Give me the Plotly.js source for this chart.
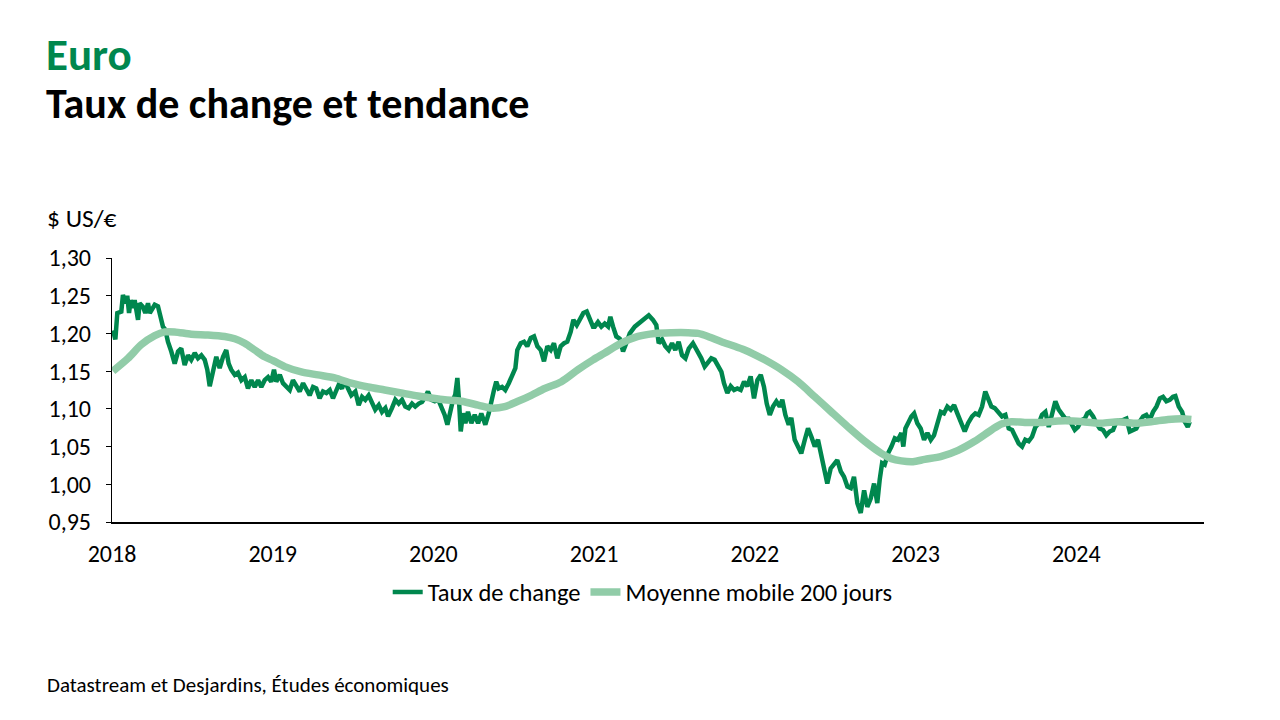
<!DOCTYPE html>
<html>
<head>
<meta charset="utf-8">
<script src="https://cdn.plot.ly/plotly-3.0.1.min.js"></script>
<style>
html,body{margin:0;padding:0;background:#fff;}
#chart{width:1280px;height:720px;}
</style>
</head>
<body>
<div id="chart"></div>
<script>
// Exchange rate (USD per EUR), x in decimal years
const rateX = [
2018.006,2018.021,2018.033,2018.058,2018.068,2018.083,2018.095,2018.106,2018.116,2018.131,2018.141,2018.162,2018.172,2018.193,2018.207,2018.224,2018.235,2018.266,2018.286,2018.303,2018.317,2018.332,2018.348,2018.369,2018.390,2018.411,2018.431,2018.452,2018.473,2018.493,2018.515,2018.535,2018.556,2018.577,2018.593,2018.608,2018.629,2018.649,2018.670,2018.691,2018.711,2018.726,2018.742,2018.764,2018.784,2018.805,2018.826,2018.846,2018.867,2018.888,2018.909,2018.929,2018.950,2018.971,2018.991,
2019.008,2019.022,2019.044,2019.064,2019.085,2019.106,2019.126,2019.147,2019.168,2019.189,2019.209,2019.230,2019.251,2019.271,2019.292,2019.313,2019.334,2019.355,2019.375,2019.396,2019.411,2019.431,2019.448,2019.469,2019.489,2019.514,2019.535,2019.556,2019.576,2019.597,2019.618,2019.638,2019.660,2019.680,2019.701,2019.718,2019.742,2019.763,2019.784,2019.805,2019.825,2019.846,2019.867,2019.887,2019.909,2019.929,2019.950,2019.966,2019.987,
2020.008,2020.029,2020.049,2020.070,2020.087,2020.101,2020.122,2020.136,2020.149,2020.159,2020.170,2020.184,2020.199,2020.215,2020.236,2020.257,2020.278,2020.298,2020.323,2020.344,2020.360,2020.377,2020.391,2020.406,2020.427,2020.447,2020.469,2020.489,2020.510,2020.522,2020.543,2020.564,2020.584,2020.606,2020.626,2020.647,2020.668,2020.688,2020.709,2020.730,2020.750,2020.771,2020.792,2020.813,2020.833,2020.854,2020.871,2020.892,2020.912,2020.933,2020.954,2020.975,2020.993,
2021.004,2021.024,2021.045,2021.066,2021.087,2021.101,2021.118,2021.138,2021.159,2021.180,2021.200,2021.222,2021.253,2021.284,2021.315,2021.340,2021.366,2021.387,2021.402,2021.423,2021.443,2021.464,2021.485,2021.505,2021.526,2021.547,2021.568,2021.589,2021.615,2021.642,2021.667,2021.688,2021.709,2021.729,2021.750,2021.771,2021.792,2021.808,2021.829,2021.850,2021.871,2021.891,2021.912,2021.933,2021.953,2021.974,2021.995,
2022.016,2022.037,2022.057,2022.074,2022.093,2022.113,2022.134,2022.155,2022.171,2022.190,2022.211,2022.227,2022.248,2022.269,2022.289,2022.311,2022.331,2022.352,2022.373,2022.393,2022.410,2022.431,2022.451,2022.472,2022.493,2022.513,2022.535,2022.555,2022.576,2022.597,2022.617,2022.638,2022.659,2022.680,2022.700,2022.721,2022.742,2022.762,2022.777,2022.792,2022.808,2022.829,2022.850,2022.871,2022.891,2022.912,2022.924,2022.937,2022.958,2022.974,2022.991,
2023.011,2023.032,2023.053,2023.074,2023.095,2023.115,2023.136,2023.157,2023.177,2023.198,2023.219,2023.240,2023.260,2023.285,2023.306,2023.327,2023.352,2023.372,2023.393,2023.414,2023.434,2023.451,2023.472,2023.493,2023.513,2023.538,2023.559,2023.580,2023.601,2023.621,2023.642,2023.663,2023.683,2023.704,2023.725,2023.746,2023.767,2023.787,2023.808,2023.829,2023.850,2023.870,2023.891,2023.912,2023.932,2023.953,2023.974,2023.991,
2024.011,2024.032,2024.053,2024.069,2024.084,2024.105,2024.125,2024.146,2024.167,2024.187,2024.208,2024.229,2024.250,2024.271,2024.291,2024.312,2024.333,2024.354,2024.374,2024.395,2024.416,2024.436,2024.457,2024.478,2024.499,2024.520,2024.540,2024.561,2024.582,2024.602,2024.617,2024.638,2024.659,2024.675,2024.694,2024.706
];
const rateY = [
1.204,1.192,1.227,1.229,1.251,1.240,1.250,1.227,1.244,1.234,1.244,1.218,1.240,1.235,1.227,1.240,1.227,1.238,1.236,1.222,1.209,1.205,1.189,1.176,1.160,1.176,1.180,1.158,1.171,1.165,1.174,1.167,1.171,1.165,1.152,1.130,1.152,1.169,1.154,1.169,1.178,1.160,1.152,1.145,1.148,1.138,1.142,1.127,1.138,1.129,1.138,1.129,1.138,1.142,1.136,
1.152,1.136,1.145,1.134,1.129,1.125,1.138,1.129,1.123,1.134,1.127,1.118,1.129,1.127,1.114,1.123,1.121,1.125,1.114,1.123,1.132,1.127,1.138,1.127,1.118,1.123,1.105,1.116,1.112,1.118,1.107,1.099,1.105,1.096,1.101,1.090,1.101,1.112,1.107,1.112,1.103,1.101,1.107,1.103,1.107,1.109,1.116,1.123,1.112,
1.110,1.113,1.103,1.092,1.079,1.094,1.112,1.119,1.141,1.112,1.070,1.094,1.081,1.096,1.081,1.092,1.081,1.094,1.079,1.094,1.112,1.125,1.136,1.127,1.129,1.125,1.134,1.145,1.154,1.178,1.187,1.189,1.183,1.194,1.196,1.183,1.178,1.163,1.183,1.178,1.187,1.167,1.183,1.187,1.189,1.202,1.218,1.211,1.220,1.227,1.229,1.220,1.209,
1.209,1.215,1.209,1.213,1.209,1.222,1.209,1.196,1.193,1.176,1.187,1.200,1.209,1.215,1.220,1.224,1.218,1.211,1.187,1.192,1.183,1.178,1.187,1.178,1.189,1.171,1.167,1.180,1.187,1.178,1.167,1.156,1.163,1.167,1.165,1.156,1.149,1.134,1.121,1.130,1.125,1.127,1.125,1.136,1.130,1.143,1.114,
1.138,1.145,1.129,1.107,1.092,1.103,1.110,1.103,1.112,1.092,1.079,1.088,1.059,1.050,1.041,1.059,1.074,1.063,1.050,1.059,1.041,1.023,1.001,1.021,1.026,1.032,1.017,1.010,0.997,0.995,1.010,0.975,0.962,0.992,0.970,0.981,1.001,0.975,1.006,1.028,1.026,1.041,1.050,1.061,1.059,1.068,1.050,1.074,1.083,1.090,1.094,
1.081,1.074,1.059,1.068,1.059,1.065,1.081,1.096,1.094,1.103,1.099,1.105,1.094,1.079,1.070,1.081,1.090,1.094,1.092,1.103,1.123,1.114,1.103,1.101,1.096,1.090,1.092,1.074,1.072,1.063,1.054,1.050,1.059,1.057,1.063,1.076,1.081,1.092,1.096,1.076,1.094,1.110,1.099,1.092,1.087,1.087,1.078,1.072,
1.076,1.085,1.087,1.094,1.096,1.090,1.081,1.074,1.072,1.065,1.070,1.072,1.083,1.085,1.085,1.087,1.070,1.072,1.074,1.083,1.090,1.092,1.085,1.096,1.103,1.114,1.116,1.110,1.112,1.116,1.117,1.103,1.096,1.083,1.076,1.083
];
// 200-day moving average
const maX = [
2018.006,2018.100,2018.182,2018.266,2018.328,2018.390,2018.493,2018.597,2018.701,2018.764,2018.826,2018.888,2018.950,
2019.002,2019.075,2019.178,2019.282,2019.386,2019.489,2019.593,2019.697,2019.800,2019.904,2019.998,
2020.070,2020.174,2020.278,2020.360,2020.444,2020.526,2020.609,2020.693,2020.796,2020.900,2020.993,
2021.066,2021.169,2021.273,2021.377,2021.481,2021.584,2021.647,2021.709,2021.792,2021.875,2021.937,2021.989,
2022.062,2022.165,2022.269,2022.373,2022.476,2022.580,2022.684,2022.787,2022.850,2022.912,2022.985,
2023.057,2023.161,2023.265,2023.368,2023.472,2023.534,2023.596,2023.680,2023.783,2023.887,2023.980,
2024.156,2024.260,2024.364,2024.467,2024.571,2024.654,2024.716
];
const maY = [
1.150,1.167,1.185,1.197,1.202,1.202,1.199,1.198,1.196,1.193,1.187,1.178,1.169,
1.164,1.156,1.149,1.145,1.141,1.134,1.129,1.125,1.121,1.117,1.114,
1.112,1.110,1.105,1.101,1.103,1.110,1.118,1.127,1.136,1.152,1.165,
1.174,1.187,1.196,1.200,1.201,1.201,1.200,1.196,1.189,1.183,1.178,1.173,
1.165,1.152,1.136,1.116,1.096,1.076,1.057,1.041,1.034,1.031,1.030,
1.033,1.037,1.045,1.057,1.072,1.080,1.083,1.082,1.082,1.084,1.084,
1.081,1.083,1.081,1.083,1.086,1.087,1.086
];
const yearTicks = [2018,2019,2020,2021,2022,2023,2024];
const yearLabels = ['2018','2019','2020','2021','2022','2023','2024'];
const seriesNames = ['Taux de change','Moyenne mobile 200 jours'];

const FONT = 'Carlito, Lato, "Liberation Sans", sans-serif';
const DARK = 'rgb(0,135,78)';
const LIGHT = 'rgb(145,204,168)';

const traces = [
  {x: rateX, y: rateY, name: seriesNames[0], type: 'scatter', mode: 'lines',
   line: {color: DARK, width: 4.5}, hoverinfo: 'skip'},
  {x: maX, y: maY, name: seriesNames[1], type: 'scatter', mode: 'lines',
   line: {color: LIGHT, width: 7.5, shape: 'spline', smoothing: 0.8}, hoverinfo: 'skip'}
];

const layout = {
  width: 1280, height: 720,
  margin: {l: 112, r: 76, t: 258, b: 198},
  paper_bgcolor: '#fff', plot_bgcolor: '#fff',
  separators: ', ',
  font: {family: FONT, size: 24, color: '#000'},
  showlegend: true,
  legend: {orientation: 'h', x: 0.486, xanchor: 'center', y: -0.265, yanchor: 'middle',
           font: {family: FONT, size: 24.5, color: '#000'}, traceorder: 'normal', itemwidth: 30},
  xaxis: {range: [2018, 2024.795], tickvals: yearTicks, ticktext: yearLabels,
          showgrid: false, zeroline: false, showline: true, linecolor: '#000', linewidth: 1.5,
          ticks: '', ticklabelstandoff: 10, tickfont: {family: FONT, size: 24, color: '#000'},
          fixedrange: true},
  yaxis: {range: [0.95, 1.30], dtick: 0.05, tick0: 0.95, tickformat: '.2f',
          showgrid: false, zeroline: false, showline: true, linecolor: '#000', linewidth: 1.2,
          ticks: 'outside', ticklen: 5, tickcolor: '#000', tickwidth: 1,
          ticklabelstandoff: 10,
          tickfont: {family: FONT, size: 24, color: '#000'}, fixedrange: true},
  annotations: [
    {text: '<b>Euro</b>', xref: 'paper', yref: 'paper', x: -0.0622, y: 1.769,
     xanchor: 'left', yanchor: 'middle', showarrow: false,
     font: {family: FONT, size: 45, color: DARK}},
    {text: '<b>Taux de change et tendance</b>', xref: 'paper', yref: 'paper', x: -0.0622, y: 1.587,
     xanchor: 'left', yanchor: 'middle', showarrow: false,
     font: {family: FONT, size: 42, color: '#000'}},
    {text: '$ US/€', xref: 'paper', yref: 'paper', x: -0.0612, y: 1.148,
     xanchor: 'left', yanchor: 'middle', showarrow: false,
     font: {family: FONT, size: 25.5, color: '#000'}},
    {text: 'Datastream et Desjardins, Études économiques', xref: 'paper', yref: 'paper', x: -0.0612, y: -0.617,
     xanchor: 'left', yanchor: 'middle', showarrow: false,
     font: {family: FONT, size: 21, color: '#000'}}
  ]
};

Plotly.newPlot('chart', traces, layout, {displayModeBar: false, staticPlot: true});
</script>
</body>
</html>
